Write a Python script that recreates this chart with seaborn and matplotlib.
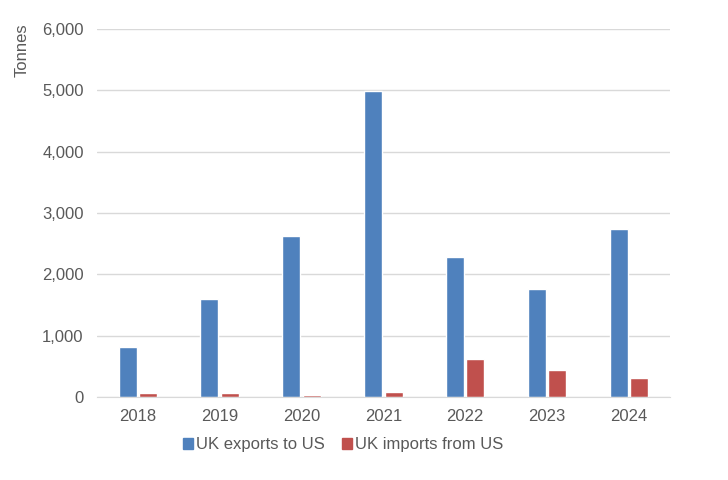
import matplotlib.pyplot as plt
import pandas as pd
import seaborn as sns
from matplotlib.patches import Patch

# %% Data
years = ["2018", "2019", "2020", "2021", "2022", "2023", "2024"]
exports_to_us = [820, 1600, 2630, 4990, 2285, 1765, 2740]
imports_from_us = [70, 70, 35, 85, 620, 440, 310]
series_names = ["UK exports to US", "UK imports from US"]

COLOURS = {"UK exports to US": "#4F81BD", "UK imports from US": "#C0504D"}
TEXT = "#595959"

df = pd.DataFrame(
    {"Year": years * 2,
     "Series": [series_names[0]] * len(years) + [series_names[1]] * len(years),
     "Tonnes": exports_to_us + imports_from_us}
)

# %% Plot
sns.set_style("white")
plt.rcParams["font.family"] = ["Liberation Sans", "DejaVu Sans"]

fig = plt.figure(figsize=(7.28, 4.8), dpi=100)
ax = fig.add_axes([0.133, 0.173, 0.787, 0.767])

sns.barplot(
    data=df, x="Year", y="Tonnes", hue="Series", palette=COLOURS,
    width=0.5, gap=0.12, ax=ax, legend=False, saturation=1,
)

ax.set_ylim(0, 6000)
ax.set_yticks(range(0, 6001, 1000))
ax.set_yticklabels([f"{v:,}" for v in range(0, 6001, 1000)])
ax.yaxis.grid(True, color="#D9D9D9", lw=1)
ax.set_axisbelow(True)
for side in ["top", "right", "left"]:
    ax.spines[side].set_visible(False)
ax.spines["bottom"].set_color("#D9D9D9")
ax.tick_params(axis="both", length=0, labelsize=12, colors=TEXT)
ax.tick_params(axis="y", pad=9.5)
ax.tick_params(axis="x", pad=9)
ax.set_xlabel("")
ax.set_ylabel("")

fig.text(22 / 728, 1 - 23 / 480, "Tonnes", rotation=90, ha="center", va="top",
         fontsize=12, color=TEXT)

handles = [Patch(color=COLOURS[s], label=s) for s in series_names]
fig.legend(
    handles=handles, loc="center", bbox_to_anchor=(343 / 728, 1 - 445 / 480),
    ncol=2, frameon=False, fontsize=12, labelcolor=TEXT,
    handlelength=0.6, handleheight=0.6, handletextpad=0.2, columnspacing=1.0,
)

plt.savefig("out.png", dpi=100)
plt.close()
